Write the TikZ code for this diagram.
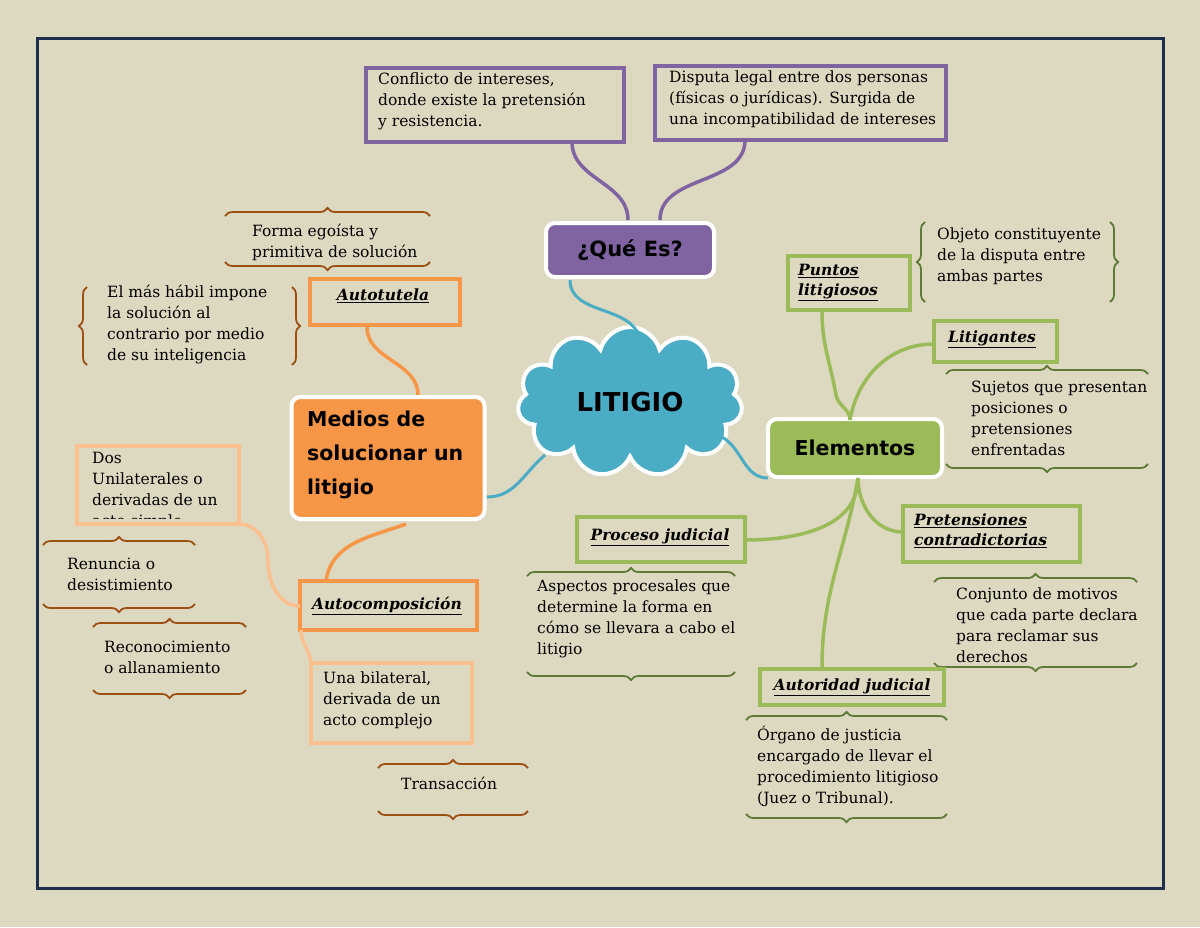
\documentclass[tikz,border=0pt]{standalone}
\usepackage{fontspec}
\setmainfont{DejaVu Serif}
\newfontfamily\hd{DejaVu Sans}
\usetikzlibrary{shapes.symbols,decorations.pathreplacing}
\definecolor{bg}{HTML}{DDD8C0}
\definecolor{navy}{HTML}{1F2E4A}
\definecolor{purp}{HTML}{8064A2}
\definecolor{blu}{HTML}{4BACC6}
\definecolor{org}{HTML}{F79646}
\definecolor{lorg}{HTML}{FAC090}
\definecolor{grn}{HTML}{9BBB59}
\definecolor{brn}{HTML}{9C4F12}
\definecolor{dgrn}{HTML}{5E7A36}
\tikzset{
 txt/.style={anchor=north west,align=left,inner sep=0pt,font=\fontsize{15.5}{21}\selectfont},
 lbl/.style={inner sep=0pt,font=\fontsize{15.5}{19}\selectfont\bfseries\itshape},
 obox/.style={draw=#1,line width=3.5pt},
 big/.style={draw=white,line width=4pt,rounded corners=9pt,fill=#1},
 con/.style={draw=#1,line width=3.5pt},
 brc/.style={draw=#1,line width=1.8pt,decorate,decoration={brace,amplitude=8pt,aspect=0.5}},
}
\newcommand{\ul}[1]{\underline{#1}}
\begin{document}
\begin{tikzpicture}[x=1pt,y=-1pt]
\fill[bg] (0,0) rectangle (1200,927);
\useasboundingbox (0,0) rectangle (1200,927);
\draw[navy,line width=3pt] (37,38) rectangle (1163,888);

% purple
\draw[obox=purp] (366,68) rectangle (624,142);
\node[txt] (c1) at (378,73) {Conflicto de intereses,\\donde existe la pretensión\\y resistencia.};
\draw[obox=purp] (655,66) rectangle (946,140);
\node[txt] (c2) at (669,71) {Disputa legal entre dos personas\\(físicas o jurídicas). Surgida de\\una incompatibilidad de intereses};
\node[big=purp,minimum width=168pt,minimum height=54pt,font=\hd\bfseries\fontsize{21}{23}\selectfont] (que) at (630,250) {¿Qué Es?};
\coordinate (c1b) at (572,142);
\coordinate (c2b) at (745,140);
\draw[con=purp] (c1b) to[out=270,in=90] (628,220);
\draw[con=purp] (c2b) to[out=270,in=90] (660,220);

% cloud
\node[cloud,cloud puffs=11,aspect=1.6,minimum width=225pt,minimum height=150pt,fill=blu,draw=white,line width=4pt,font=\hd\bfseries\fontsize{26}{28}\selectfont] (lit) at (630,402) {LITIGIO};
\draw[con=blu,line width=3pt] (570,280) to[out=270,in=100] (640,340);

% Medios
\node[big=org,minimum width=193pt,minimum height=122pt] (med) at (388,458) {};
\node[txt,font=\hd\bfseries\fontsize{20.5}{34}\selectfont] (medt) at (307,411) {Medios de\\solucionar un\\litigio};
\draw[con=blu,line width=3pt] (545,455) to[out=220,in=0] (487,497);

% Autotutela
\draw[obox=org] (310,279) rectangle (460,325);
\node[lbl] (aut) at (383,296) {\ul{Autotutela}};
\draw[con=org] (367,327) to[out=270,in=90] (418,395);
\draw[brc=brn] (225,216) -- (430,216);
\draw[brc=brn] (430,262) -- (225,262);
\node[txt] (forma) at (252,224) {Forma egoísta y\\primitiva de solución};
\draw[brc=brn] (87,365) -- (87,287);
\draw[brc=brn] (292,287) -- (292,365);
\node[txt] (mas) at (107,285) {El más hábil impone\\la solución al\\contrario por medio\\de su inteligencia};

% Dos box
\draw[obox=lorg] (77,446) rectangle (239,524);
\begin{scope}
\clip (80,449) rectangle (236,518);
\node[txt] (dos) at (92,452) {Dos\\Unilaterales o\\derivadas de un\\acto simple};
\end{scope}
\draw[brc=brn] (43,545) -- (195,545);
\draw[brc=brn] (195,604) -- (43,604);
\node[txt] (ren) at (67,558) {Renuncia o\\desistimiento};
\draw[brc=brn] (93,627) -- (246,627);
\draw[brc=brn] (246,690) -- (93,690);
\node[txt] (rec) at (104,641) {Reconocimiento\\o allanamiento};

% Autocomposicion
\draw[obox=org] (300,581) rectangle (477,630);
\node[lbl] (autc) at (387,606) {\ul{Autocomposición}};
\draw[con=org] (406,524) to[out=200,in=80] (326,580);
\draw[con=lorg] (239,524) to[out=0,in=90] (268,560) to[out=270,in=180] (300,606);
\draw[obox=lorg] (311,663) rectangle (472,743);
\draw[con=lorg] (301,630) to[out=270,in=90] (311,665);
\node[txt] (una) at (323,672) {Una bilateral,\\derivada de un\\acto complejo};
\draw[brc=brn] (378,768) -- (528,768);
\draw[brc=brn] (528,811) -- (378,811);
\node[txt] (tra) at (401,777) {Transacción};

% Elementos
\node[big=grn,minimum width=174pt,minimum height=58pt,font=\hd\bfseries\fontsize{20.5}{22}\selectfont] (ele) at (855,448) {Elementos};
\draw[con=blu,line width=3pt] (722,437) to[out=-30,in=180] (768,478);

\draw[obox=grn] (788,256) rectangle (910,310);
\node[lbl,align=left,anchor=north west] (pun) at (798,264) {\ul{Puntos}\\[1pt]\ul{litigiosos}};
\draw[brc=dgrn] (925,302) -- (925,222);
\draw[brc=dgrn] (1110,222) -- (1110,302);
\node[txt] (obj) at (937,228) {Objeto constituyente\\de la disputa entre\\ambas partes};

\draw[obox=grn] (934,321) rectangle (1057,362);
\node[lbl] (lig) at (992,339) {\ul{Litigantes}};
\draw[brc=dgrn] (946,374) -- (1148,374);
\draw[brc=dgrn] (1148,464) -- (946,464);
\node[txt] (suj) at (971,381) {Sujetos que presentan\\posiciones o\\pretensiones\\enfrentadas};

\draw[obox=grn] (903,506) rectangle (1080,562);
\node[lbl,align=left,anchor=north west] (pre) at (914,514) {\ul{Pretensiones}\\[1pt]\ul{contradictorias}};
\draw[brc=dgrn] (934,582) -- (1137,582);
\draw[brc=dgrn] (1137,663) -- (934,663);
\node[txt] (conj) at (956,588) {Conjunto de motivos\\que cada parte declara\\para reclamar sus\\derechos};

\draw[obox=grn] (577,517) rectangle (745,562);
\node[lbl] (pro) at (660,537) {\ul{Proceso judicial}};
\draw[brc=dgrn] (527,576) -- (735,576);
\draw[brc=dgrn] (735,672) -- (527,672);
\node[txt] (asp) at (537,580) {Aspectos procesales que\\determine la forma en\\cómo se llevara a cabo el\\litigio};

\draw[obox=grn] (760,669) rectangle (944,705);
\node[lbl] (auj) at (852,687) {\ul{Autoridad judicial}};
\draw[brc=dgrn] (746,720) -- (947,720);
\draw[brc=dgrn] (947,814) -- (746,814);
\node[txt] (org) at (757,726) {Órgano de justicia\\encargado de llevar el\\procedimiento litigioso\\(Juez o Tribunal).};

\draw[con=grn] (822,312) to[out=270,in=100] (836,395) to[out=280,in=90] (850,420);
\draw[con=grn] (850,420) to[out=80,in=180] (934,344);
\draw[con=grn] (858,478) to[out=270,in=0] (745,540);
\draw[con=grn] (858,478) to[out=270,in=180] (903,532);
\draw[con=grn] (858,478) to[out=260,in=90] (822,667);
\end{tikzpicture}
\end{document}
